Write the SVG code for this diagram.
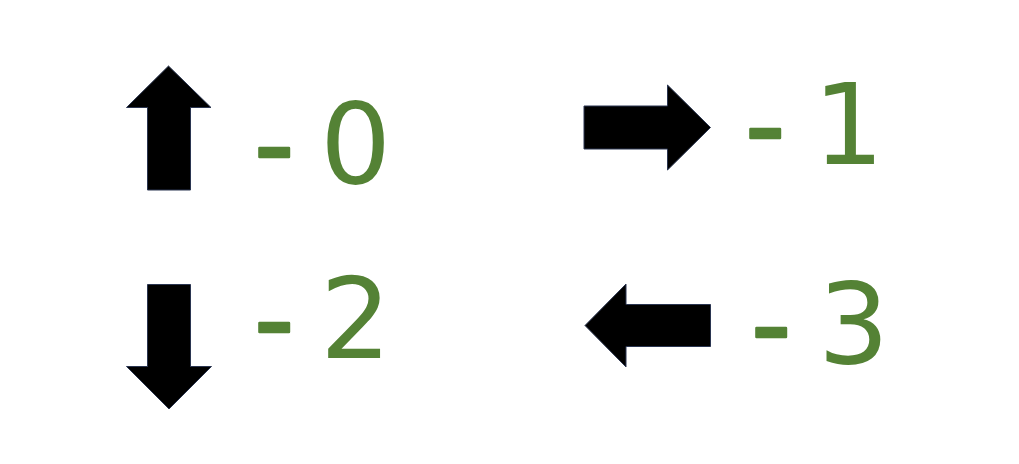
<svg xmlns="http://www.w3.org/2000/svg" width="1019" height="464" viewBox="0 0 1019 464">
<style>
.arr{fill:#000;stroke:#2a3550;stroke-width:1}
.lbl{font-family:"DejaVu Sans",sans-serif;font-size:112px;fill:#548235}
.dash{stroke:#548235;stroke-width:2.5;stroke-linejoin:round}
</style>
<rect width="1019" height="464" fill="#fff"/>
<g id="up">
<polygon class="arr" points="168.5,66 211,107.5 190.5,107.5 190.5,190 147.5,190 147.5,107.5 126.5,107.5"/>
<text class="lbl"><tspan class="dash" x="254" y="183">-</tspan><tspan x="320" y="183">0</tspan></text>
</g>
<g id="right">
<polygon class="arr" points="584,106 667.5,106 667.5,85 710.5,127.5 667.5,170 667.5,149 584,149"/>
<text class="lbl"><tspan class="dash" x="745" y="164">-</tspan><tspan x="813" y="164">1</tspan></text>
</g>
<g id="down">
<polygon class="arr" points="147.5,284.5 190.5,284.5 190.5,366.5 211.5,366.5 169,409 126.5,366.5 147.5,366.5"/>
<text class="lbl"><tspan class="dash" x="254" y="358">-</tspan><tspan x="320" y="358">2</tspan></text>
</g>
<g id="left">
<polygon class="arr" points="585,325.5 626,284 626,304.5 710.5,304.5 710.5,346.5 626,346.5 626,367"/>
<text class="lbl"><tspan class="dash" x="751" y="363">-</tspan><tspan x="818" y="363">3</tspan></text>
</g>
<g id="connectors"/>
</svg>
